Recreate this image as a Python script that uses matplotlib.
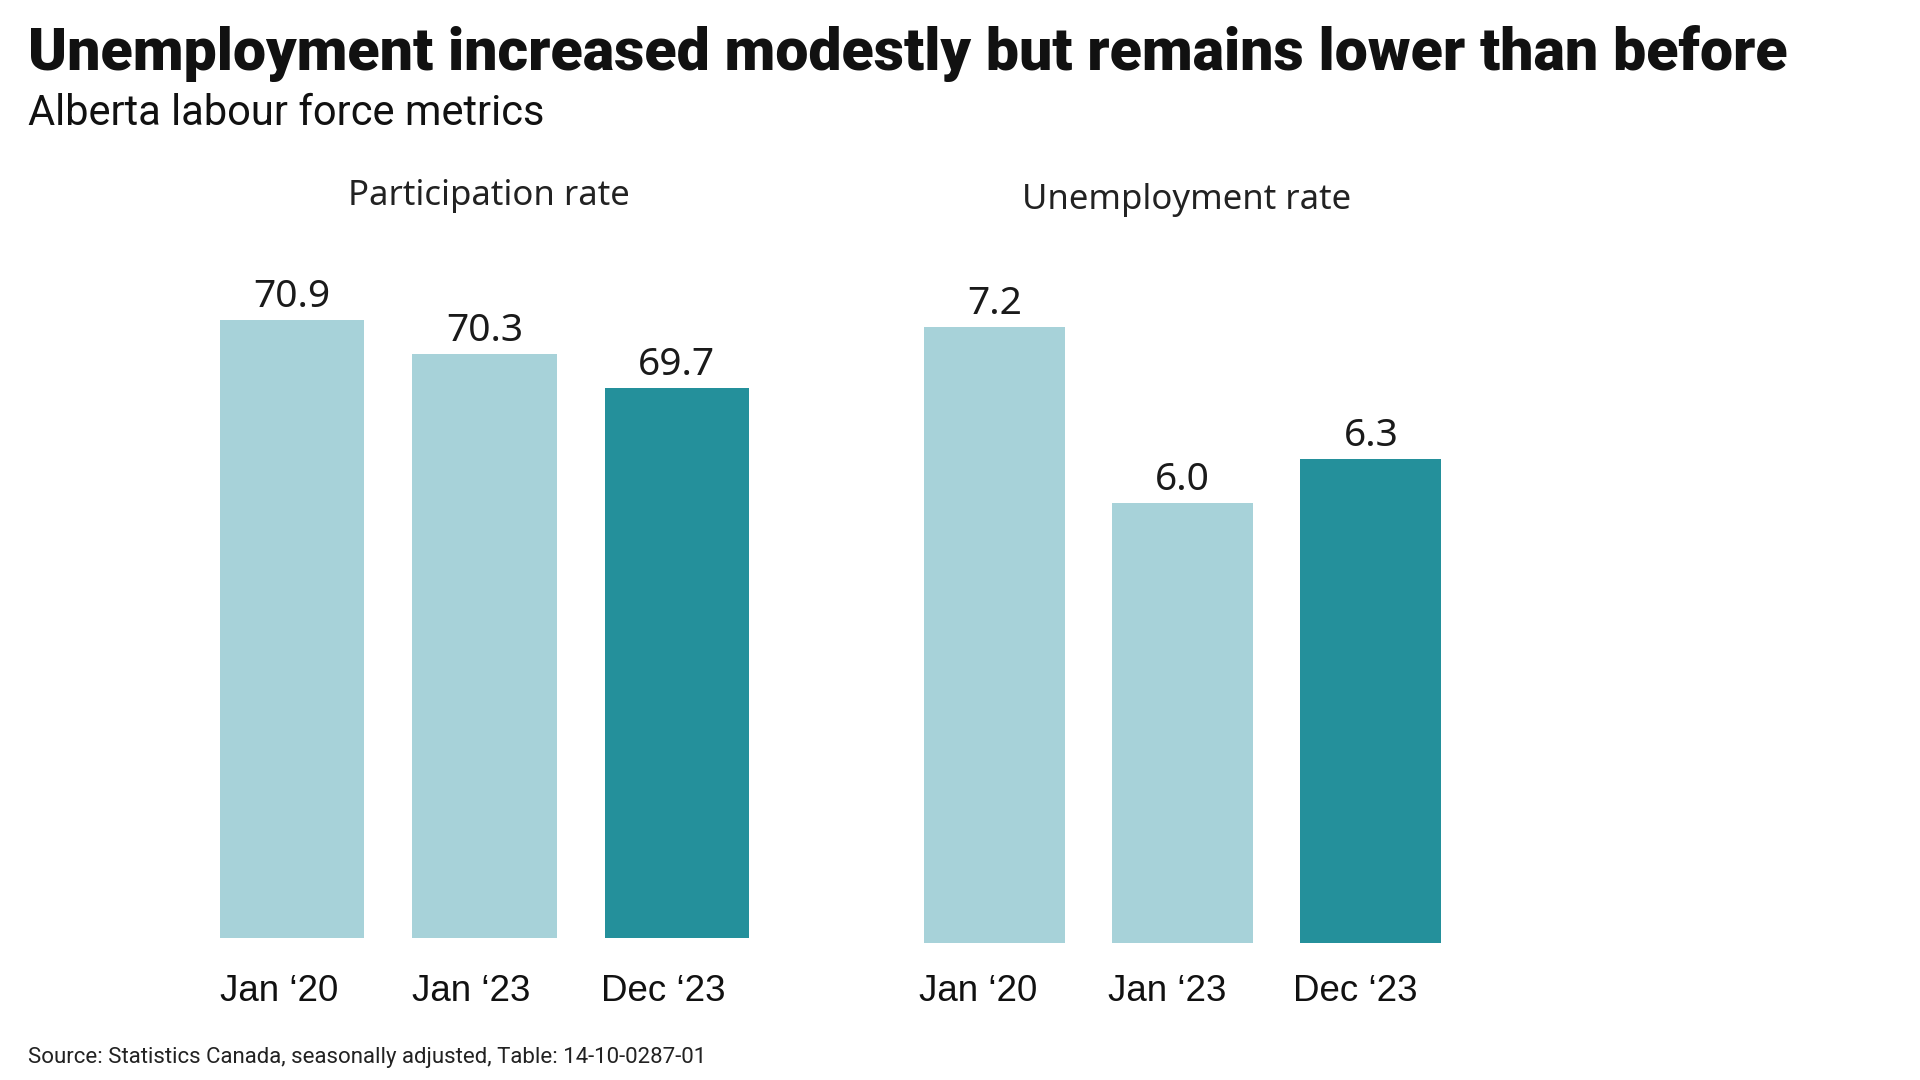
import matplotlib
matplotlib.use("Agg")
import matplotlib.pyplot as plt

# data
periods = ["Jan \u201820", "Jan \u201823", "Dec \u201823"]
participation = [70.9, 70.3, 69.7]
unemployment = [7.2, 6.0, 6.3]
value_labels_part = ["70.9", "70.3", "69.7"]
value_labels_unemp = ["7.2", "6.0", "6.3"]

LIGHT = "#a7d2d9"
DARK = "#24909b"
colors = [LIGHT, LIGHT, DARK]

fig = plt.figure(figsize=(19.2, 10.8), dpi=100)
fig.patch.set_facecolor("white")

fig.text(0.0146, 0.977, "Unemployment increased modestly but remains lower than before",
         fontsize=42.5, fontweight="black", family="Roboto", va="top", ha="left", color="#111111")
fig.text(0.0146, 0.914, "Alberta labour force metrics",
         fontsize=30, fontweight="normal", family="Roboto", va="top", ha="left", color="#111111")
fig.text(0.0146, 0.011, "Source: Statistics Canada, seasonally adjusted, Table: 14-10-0287-01",
         fontsize=16, family="Roboto", va="bottom", ha="left", color="#222222")


def panel(rect, vals, labels, ylim, pad, tick_shift):
    ax = fig.add_axes(rect)
    x = list(range(len(vals)))
    ax.bar(x, vals, width=0.75, color=colors)
    ax.set_ylim(*ylim)
    ax.set_xlim(-0.5, 2.5)
    for xi, v, lab in zip(x, vals, labels):
        ax.annotate(lab, (xi, v), xytext=(0, 3), textcoords="offset points",
                    ha="center", va="bottom", fontsize=28, family="Noto Sans",
                    color="#1a1a1a")
    # labels in the reference sit a little left of the bar centres
    ax.set_xticks([xi - tick_shift for xi in x])
    ax.set_xticklabels(periods, fontsize=26.5, family="Liberation Sans", color="#111111")
    ax.tick_params(axis="x", length=0, pad=pad)
    ax.set_yticks([])
    for s in ax.spines.values():
        s.set_visible(False)
    return ax


ax1 = panel([0.102, 0.1315, 0.3006, 0.63], participation, value_labels_part,
            (60, 72.0), 26, 0.068)
ax2 = panel([0.469, 0.1269, 0.294, 0.63], unemployment, value_labels_unemp,
            (3, 7.64), 22.5, 0.085)

fig.text(0.2547, 0.8185, "Participation rate", fontsize=25, family="Noto Sans",
         ha="center", va="center", color="#222222")
fig.text(0.618, 0.815, "Unemployment rate", fontsize=25, family="Noto Sans",
         ha="center", va="center", color="#222222")

fig.savefig("out.png", dpi=100)
